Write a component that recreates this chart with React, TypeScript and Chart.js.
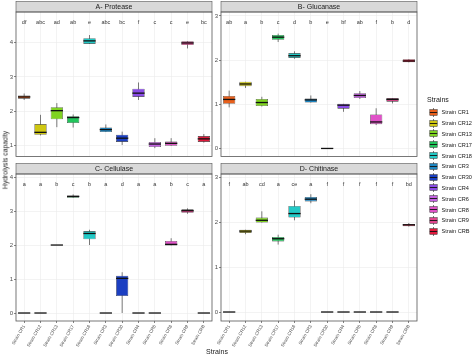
import React, { useEffect, useRef } from "react";
import { Chart, registerables } from "chart.js";
Chart.register(...registerables);

const FONT = "'Liberation Sans', Arial, sans-serif";

const strains = [
  "Strain CR1", "Strain CR12", "Strain CR13", "Strain CR17", "Strain CR18", "Strain CR3",
  "Strain CR30", "Strain CR4", "Strain CR6", "Strain CR8", "Strain CR9", "Strain CRB",
];
const strainColors = [
  "#E8601C", "#CFC712", "#7FD321", "#22C55C", "#22C9C6", "#1D86C2",
  "#1B3FC2", "#8A4DE6", "#C462E2", "#E052C8", "#E0468E", "#E01A3C",
];

// A - Protease
const proteaseMin = [2.33, 1.30, 1.54, 1.53, 3.96, 1.40, 1.02, 2.33, 0.93, 1.00, 3.83, 1.09];
const proteaseQ1 = [2.37, 1.32, 1.77, 1.66, 3.96, 1.40, 1.11, 2.42, 0.96, 1.00, 3.93, 1.11];
const proteaseMed = [2.42, 1.39, 2.02, 1.82, 4.05, 1.47, 1.22, 2.53, 1.05, 1.07, 3.99, 1.20];
const proteaseQ3 = [2.46, 1.63, 2.12, 1.86, 4.13, 1.53, 1.32, 2.66, 1.11, 1.12, 4.04, 1.28];
const proteaseMax = [2.52, 1.90, 2.24, 1.91, 4.22, 1.62, 1.41, 2.84, 1.22, 1.22, 4.04, 1.34];
const proteaseLetters = ["df", "abc", "ad", "ab", "e", "abc", "bc", "f", "c", "c", "e", "bc"];
const proteaseTicks = [1, 2, 3, 4];

// B - Glucanase
const glucanaseMin = [0.93, 1.37, 0.95, 2.41, 2.03, 1.04, 0, 0.83, 1.12, 0.53, 1.02, 1.95];
const glucanaseQ1 = [1.01, 1.41, 0.96, 2.46, 2.05, 1.04, 0, 0.90, 1.14, 0.55, 1.06, 1.95];
const glucanaseMed = [1.11, 1.46, 1.04, 2.52, 2.10, 1.10, 0, 0.98, 1.20, 0.60, 1.11, 1.98];
const glucanaseQ3 = [1.19, 1.51, 1.12, 2.57, 2.16, 1.13, 0, 1.01, 1.25, 0.77, 1.14, 2.02];
const glucanaseMax = [1.31, 1.51, 1.17, 2.60, 2.20, 1.20, 0, 1.01, 1.30, 0.91, 1.14, 2.02];
const glucanaseLetters = ["ab", "a", "b", "c", "d", "b", "e", "bf", "ab", "f", "b", "d"];
const glucanaseTicks = [0, 1, 2, 3];

// C - Cellulase
const cellulaseMin = [0, 0, 2.0, 3.39, 2.0, 0, 0, 0, 0, 1.99, 2.92, 0];
const cellulaseQ1 = [0, 0, 2.0, 3.39, 2.17, 0, 0.5, 0, 0, 1.99, 2.95, 0];
const cellulaseMed = [0, 0, 2.0, 3.43, 2.34, 0, 1.02, 0, 0, 2.02, 3.01, 0];
const cellulaseQ3 = [0, 0, 2.0, 3.46, 2.41, 0, 1.1, 0, 0, 2.12, 3.05, 0];
const cellulaseMax = [0, 0, 2.0, 3.49, 2.45, 0, 1.2, 0, 0, 2.2, 3.08, 0];
const cellulaseLetters = ["a", "a", "b", "c", "b", "a", "d", "a", "a", "b", "c", "a"];
const cellulaseTicks = [0, 1, 2, 3, 4];

// D - Chitinase
const chitinaseMin = [0, 1.73, 1.99, 1.50, 2.04, 2.42, 0, 0, 0, 0, 0, 1.90];
const chitinaseQ1 = [0, 1.76, 1.99, 1.57, 2.10, 2.46, 0, 0, 0, 0, 0, 1.91];
const chitinaseMed = [0, 1.80, 2.04, 1.63, 2.19, 2.51, 0, 0, 0, 0, 0, 1.94];
const chitinaseQ3 = [0, 1.83, 2.10, 1.67, 2.36, 2.56, 0, 0, 0, 0, 0, 1.96];
const chitinaseMax = [0, 1.83, 2.24, 1.72, 2.48, 2.62, 0, 0, 0, 0, 0, 1.98];
const chitinaseLetters = ["f", "ab", "cd", "a", "ce", "a", "f", "f", "f", "f", "f", "bd"];
const chitinaseTicks = [0, 1, 2, 3];

type PanelCfg = {
  title: string;
  min: number[]; q1: number[]; med: number[]; q3: number[]; max: number[];
  letters: string[]; ticks: number[];
  yMin: number; yMax: number;
  showX: boolean;
  left: number; top: number; w: number; h: number;
};

const panels: PanelCfg[] = [
  { title: "A- Protease", min: proteaseMin, q1: proteaseQ1, med: proteaseMed, q3: proteaseQ3, max: proteaseMax,
    letters: proteaseLetters, ticks: proteaseTicks, yMin: 0.69, yMax: 4.89, showX: false, left: 0, top: 0, w: 216, h: 161 },
  { title: "B- Glucanase", min: glucanaseMin, q1: glucanaseQ1, med: glucanaseMed, q3: glucanaseQ3, max: glucanaseMax,
    letters: glucanaseLetters, ticks: glucanaseTicks, yMin: -0.18, yMax: 3.09, showX: false, left: 205, top: 0, w: 216, h: 161 },
  { title: "C- Cellulase", min: cellulaseMin, q1: cellulaseQ1, med: cellulaseMed, q3: cellulaseQ3, max: cellulaseMax,
    letters: cellulaseLetters, ticks: cellulaseTicks, yMin: -0.235, yMax: 4.09, showX: true, left: 0, top: 162, w: 216, h: 188 },
  { title: "D- Chitinase", min: chitinaseMin, q1: chitinaseQ1, med: chitinaseMed, q3: chitinaseQ3, max: chitinaseMax,
    letters: chitinaseLetters, ticks: chitinaseTicks, yMin: -0.2, yMax: 3.07, showX: true, left: 205, top: 162, w: 216, h: 188 },
];

function Panel({ cfg }: { cfg: PanelCfg }) {
  const ref = useRef<HTMLCanvasElement>(null);
  useEffect(() => {
    const boxPlugin = {
      id: "boxExtras",
      beforeDatasetsDraw(chart: any) {
        const { ctx, chartArea } = chart;
        const x = chart.scales.x;
        const y = chart.scales.y;
        ctx.save();
        // strip
        ctx.fillStyle = "#D9D9D9";
        ctx.fillRect(chartArea.left, chartArea.top - 10.5, chartArea.right - chartArea.left, 10.5);
        ctx.strokeStyle = "#555";
        ctx.lineWidth = 0.6;
        ctx.strokeRect(chartArea.left, chartArea.top - 10.5, chartArea.right - chartArea.left, 10.5);
        ctx.fillStyle = "#1A1A1A";
        ctx.font = `7px ${FONT}`;
        ctx.textAlign = "center";
        ctx.textBaseline = "middle";
        ctx.fillText(cfg.title, (chartArea.left + chartArea.right) / 2, chartArea.top - 5);
        // whiskers
        ctx.strokeStyle = "#444";
        ctx.lineWidth = 0.7;
        for (let i = 0; i < strains.length; i++) {
          if (cfg.max[i] === cfg.min[i]) continue;
          const px = x.getPixelForValue(i);
          ctx.beginPath();
          ctx.moveTo(px, y.getPixelForValue(cfg.min[i]));
          ctx.lineTo(px, y.getPixelForValue(cfg.max[i]));
          ctx.stroke();
        }
        ctx.restore();
      },
      afterDatasetsDraw(chart: any) {
        const { ctx, chartArea } = chart;
        const y = chart.scales.y;
        const meta = chart.getDatasetMeta(0);
        ctx.save();
        ctx.strokeStyle = "#111";
        ctx.lineWidth = 1.3;
        for (let i = 0; i < strains.length; i++) {
          const bar = meta.data[i];
          const w = bar.width;
          const py = y.getPixelForValue(cfg.med[i]);
          ctx.beginPath();
          ctx.moveTo(bar.x - w / 2, py);
          ctx.lineTo(bar.x + w / 2, py);
          ctx.stroke();
        }
        // letters
        ctx.fillStyle = "#333";
        ctx.font = `5.5px ${FONT}`;
        ctx.textAlign = "center";
        ctx.textBaseline = "middle";
        for (let i = 0; i < strains.length; i++) {
          ctx.fillText(cfg.letters[i], meta.data[i].x, chartArea.top + 10);
        }
        // border
        ctx.strokeStyle = "#555";
        ctx.lineWidth = 0.8;
        ctx.strokeRect(chartArea.left, chartArea.top, chartArea.right - chartArea.left, chartArea.bottom - chartArea.top);
        ctx.restore();
      },
    };

    const chart = new Chart(ref.current!, {
      type: "bar",
      data: {
        labels: strains,
        datasets: [
          {
            data: cfg.q1.map((v, i) => [v, cfg.q3[i]]) as any,
            backgroundColor: strainColors,
            borderColor: "#333",
            borderWidth: 0.6,
            borderSkipped: false,
            barPercentage: 0.75,
            categoryPercentage: 1,
          },
        ],
      },
      options: {
        responsive: false,
        animation: false,
        devicePixelRatio: 1,
        layout: { padding: { top: 12, right: 4, bottom: cfg.showX ? 0 : 2, left: 0 } },
        plugins: { legend: { display: false }, tooltip: { enabled: false }, title: { display: false } },
        scales: {
          x: {
            type: "category",
            offset: true,
            grid: { offset: false, color: "#EBEBEB", lineWidth: 0.6, tickLength: 2, tickColor: "#333", drawTicks: cfg.showX },
            border: { display: false },
            ticks: {
              display: cfg.showX,
              maxRotation: 60,
              minRotation: 60,
              autoSkip: false,
              font: { size: 4.5, family: FONT },
              color: "#4D4D4D",
              padding: 1,
            },
            afterFit: (s: any) => { s.height = cfg.showX ? 29 : 0; },
          },
          y: {
            min: cfg.yMin,
            max: cfg.yMax,
            afterBuildTicks: (s: any) => { s.ticks = cfg.ticks.map((v) => ({ value: v })); },
            grid: { color: "#EBEBEB", lineWidth: 0.6, tickLength: 2, tickColor: "#333" },
            border: { display: false },
            ticks: { font: { size: 6, family: FONT }, color: "#4D4D4D", padding: 1, callback: (v: any) => String(v) },
            afterFit: (s: any) => { s.width = 16; },
          },
        },
      } as any,
      plugins: [boxPlugin],
    });
    return () => chart.destroy();
  }, []);
  return (
    <canvas
      ref={ref}
      width={cfg.w}
      height={cfg.h}
      style={{ position: "absolute", left: cfg.left, top: cfg.top, width: cfg.w, height: cfg.h }}
    />
  );
}

function LegendKey({ color }: { color: string }) {
  return (
    <svg width={9} height={9} viewBox="0 0 9 9" style={{ display: "block" }}>
      <line x1={4.5} y1={0} x2={4.5} y2={9} stroke="#444" strokeWidth={0.7} />
      <rect x={0.8} y={1.6} width={7.4} height={5.8} fill={color} stroke="#333" strokeWidth={0.5} />
      <line x1={0.8} y1={4.5} x2={8.2} y2={4.5} stroke="#111" strokeWidth={0.9} />
    </svg>
  );
}

export default function App() {
  return (
    <div
      style={{
        position: "absolute", left: 0, top: 0, width: 474, height: 356, background: "#fff",
        overflow: "hidden", fontFamily: FONT,
      }}
    >
      {panels.map((p) => (
        <Panel key={p.title} cfg={p} />
      ))}
      <div
        style={{
          position: "absolute", left: 5, top: 160, transform: "translate(-50%, -50%) rotate(-90deg)",
          fontSize: 6.8, color: "#1A1A1A", whiteSpace: "nowrap",
        }}
      >
        Hydrolysis capacity
      </div>
      <div
        style={{
          position: "absolute", left: 217, top: 351, transform: "translate(-50%, -50%)",
          fontSize: 7, color: "#1A1A1A", whiteSpace: "nowrap",
        }}
      >
        Strains
      </div>
      <div style={{ position: "absolute", left: 427, top: 96, fontSize: 7, color: "#1A1A1A", whiteSpace: "nowrap" }}>
        Strains
      </div>
      {strains.map((s, i) => (
        <div
          key={s}
          style={{
            position: "absolute", left: 428.5, top: 112.3 + i * 10.8 - 4.5, height: 9,
            display: "flex", alignItems: "center", whiteSpace: "nowrap",
          }}
        >
          <LegendKey color={strainColors[i]} />
          <span style={{ marginLeft: 4, fontSize: 5.6, color: "#1A1A1A" }}>{s}</span>
        </div>
      ))}
    </div>
  );
}
